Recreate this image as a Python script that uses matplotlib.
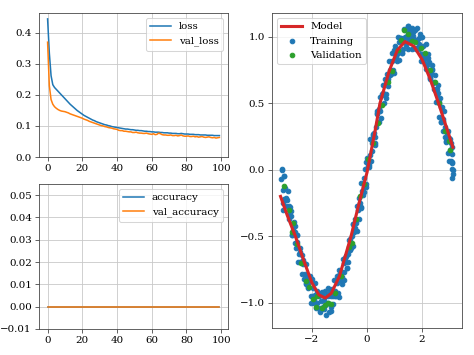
import matplotlib
matplotlib.use("Agg")
import matplotlib.pyplot as plt

plt.rcParams['font.family'] = ['DejaVu Serif']
plt.rcParams['font.size'] = 10

epochs = list(range(100))

loss = [0.445, 0.335, 0.262, 0.233, 0.224, 0.218, 0.212, 0.206, 0.200, 0.194,
        0.188, 0.182, 0.176, 0.170, 0.165, 0.160, 0.155, 0.150, 0.146, 0.142,
        0.138, 0.134, 0.131, 0.128, 0.125, 0.122, 0.119, 0.117, 0.114, 0.112,
        0.110, 0.108, 0.106, 0.104, 0.103, 0.101, 0.100, 0.098, 0.097, 0.096,
        0.095, 0.094, 0.093, 0.092, 0.091, 0.090, 0.090, 0.089, 0.088, 0.088,
        0.087, 0.086, 0.086, 0.085, 0.085, 0.084, 0.083, 0.083, 0.082, 0.082,
        0.081, 0.081, 0.080, 0.080, 0.080, 0.079, 0.079, 0.078, 0.078, 0.078,
        0.077, 0.077, 0.076, 0.076, 0.076, 0.075, 0.075, 0.076, 0.075, 0.074,
        0.074, 0.074, 0.073, 0.073, 0.073, 0.072, 0.072, 0.072, 0.071, 0.071,
        0.071, 0.071, 0.070, 0.070, 0.070, 0.070, 0.069, 0.069, 0.069, 0.069]

val_loss = [0.370, 0.230, 0.185, 0.170, 0.162, 0.157, 0.153, 0.150, 0.148, 0.147,
            0.146, 0.144, 0.142, 0.139, 0.137, 0.135, 0.133, 0.131, 0.129, 0.127,
            0.125, 0.122, 0.120, 0.118, 0.115, 0.113, 0.111, 0.109, 0.107, 0.105,
            0.103, 0.101, 0.100, 0.098, 0.097, 0.095, 0.094, 0.093, 0.091, 0.090,
            0.089, 0.086, 0.085, 0.085, 0.083, 0.083, 0.082, 0.081, 0.081, 0.079,
            0.079, 0.080, 0.078, 0.077, 0.077, 0.076, 0.076, 0.077, 0.075, 0.074,
            0.073, 0.075, 0.072, 0.073, 0.077, 0.075, 0.072, 0.071, 0.071, 0.070,
            0.070, 0.071, 0.069, 0.069, 0.070, 0.068, 0.069, 0.071, 0.068, 0.067,
            0.067, 0.068, 0.066, 0.066, 0.067, 0.065, 0.066, 0.064, 0.065, 0.066,
            0.064, 0.063, 0.064, 0.065, 0.063, 0.062, 0.063, 0.061, 0.062, 0.063]

accuracy = [0.0, 0.0, 0.0, 0.0, 0.0, 0.0, 0.0, 0.0, 0.0, 0.0,
            0.0, 0.0, 0.0, 0.0, 0.0, 0.0, 0.0, 0.0, 0.0, 0.0,
            0.0, 0.0, 0.0, 0.0, 0.0, 0.0, 0.0, 0.0, 0.0, 0.0,
            0.0, 0.0, 0.0, 0.0, 0.0, 0.0, 0.0, 0.0, 0.0, 0.0,
            0.0, 0.0, 0.0, 0.0, 0.0, 0.0, 0.0, 0.0, 0.0, 0.0,
            0.0, 0.0, 0.0, 0.0, 0.0, 0.0, 0.0, 0.0, 0.0, 0.0,
            0.0, 0.0, 0.0, 0.0, 0.0, 0.0, 0.0, 0.0, 0.0, 0.0,
            0.0, 0.0, 0.0, 0.0, 0.0, 0.0, 0.0, 0.0, 0.0, 0.0,
            0.0, 0.0, 0.0, 0.0, 0.0, 0.0, 0.0, 0.0, 0.0, 0.0,
            0.0, 0.0, 0.0, 0.0, 0.0, 0.0, 0.0, 0.0, 0.0, 0.0]
val_accuracy = list(accuracy)

train_x = [-3.10, -3.05, -3.00, -2.95, -2.90, -2.85, -2.80, -2.75, -2.70, -2.65,
           -2.60, -2.55, -2.50, -2.45, -2.40, -2.35, -2.30, -2.25, -2.20, -2.15,
           -2.10, -2.05, -2.00, -1.95, -1.90, -1.85, -1.80, -1.75, -1.70, -1.65,
           -1.60, -1.55, -1.50, -1.45, -1.40, -1.35, -1.30, -1.25, -1.20, -1.15,
           -1.10, -1.05, -1.00, -0.95, -0.90, -0.85, -0.80, -0.75, -0.70, -0.65,
           -0.60, -0.55, -0.50, -0.45, -0.40, -0.35, -0.30, -0.25, -0.20, -0.15,
           -0.10, -0.05, 0.00, 0.05, 0.10, 0.15, 0.20, 0.25, 0.30, 0.35,
           0.40, 0.45, 0.50, 0.55, 0.60, 0.65, 0.70, 0.75, 0.80, 0.85,
           0.90, 0.95, 1.00, 1.05, 1.10, 1.15, 1.20, 1.25, 1.30, 1.35,
           1.40, 1.45, 1.50, 1.55, 1.60, 1.65, 1.70, 1.75, 1.80, 1.85,
           1.90, 1.95, 2.00, 2.05, 2.10, 2.15, 2.20, 2.25, 2.30, 2.35,
           2.40, 2.45, 2.50, 2.55, 2.60, 2.65, 2.70, 2.75, 2.80, 2.85,
           2.90, 2.95, 3.00, 3.05, 3.10,
           -3.125, -3.025, -2.925, -2.825, -2.725, -2.625, -2.525, -2.425, -2.325, -2.225,
           -2.125, -2.025, -1.925, -1.825, -1.725, -1.625, -1.525, -1.425, -1.325, -1.225,
           -1.125, -1.025, -0.925, -0.825, -0.725, -0.625, -0.525, -0.425, -0.325, -0.225,
           -0.125, -0.025, 0.075, 0.175, 0.275, 0.375, 0.475, 0.575, 0.675, 0.775,
           0.875, 0.975, 1.075, 1.175, 1.275, 1.375, 1.475, 1.575, 1.675, 1.775,
           1.875, 1.975, 2.075, 2.175, 2.275, 2.375, 2.475, 2.575, 2.675, 2.775,
           2.875, 2.975, 3.075,
           -3.075, -3.025, -2.975, -2.925, -2.875, -2.825, -2.775, -2.725, -2.675, -2.625,
           -2.575, -2.525, -2.475, -2.425, -2.375, -2.325, -2.275, -2.225, -2.175, -2.125,
           -2.075, -2.025, -1.975, -1.925, -1.875, -1.825, -1.775, -1.725, -1.675, -1.625,
           -1.575, -1.525, -1.475, -1.425, -1.375, -1.325, -1.275, -1.225, -1.175, -1.125,
           -1.075, -1.025, -0.975, -0.925, -0.875, -0.825, -0.775, -0.725, -0.675, -0.625,
           -0.575, -0.525, -0.475, -0.425, -0.375, -0.325, -0.275, -0.225, -0.175, -0.125,
           -0.075, -0.025, 0.025, 0.075, 0.125, 0.175, 0.225, 0.275, 0.325, 0.375,
           0.425, 0.475, 0.525, 0.575, 0.625, 0.675, 0.725, 0.775, 0.825, 0.875,
           0.925, 0.975, 1.025, 1.075, 1.125, 1.175, 1.225, 1.275, 1.325, 1.375,
           1.425, 1.475, 1.525, 1.575, 1.625, 1.675, 1.725, 1.775, 1.825, 1.875,
           1.925, 1.975, 2.025, 2.075, 2.125, 2.175, 2.225, 2.275, 2.325, 2.375,
           2.425, 2.475, 2.525, 2.575, 2.625, 2.675, 2.725, 2.775, 2.825, 2.875,
           2.925, 2.975, 3.025, 3.075,
           3.10, 3.11, 3.09, 3.12, 3.08, 3.05, -3.06, -3.04]

train_y = [-0.00, -0.15, -0.05, -0.21, -0.23, -0.37, -0.28, -0.35, -0.48, -0.39,
           -0.55, -0.54, -0.69, -0.59, -0.69, -0.64, -0.82, -0.78, -0.71, -0.88,
           -0.82, -0.95, -0.82, -0.95, -0.94, -1.04, -0.91, -0.95, -1.04, -0.92,
           -1.03, -0.98, -1.09, -0.94, -1.00, -0.91, -1.03, -0.95, -0.83, -0.95,
           -0.85, -0.93, -0.75, -0.83, -0.77, -0.83, -0.66, -0.65, -0.69, -0.53,
           -0.60, -0.50, -0.57, -0.39, -0.40, -0.27, -0.37, -0.25, -0.10, -0.19,
           -0.06, -0.11, 0.09, 0.03, 0.11, 0.07, 0.26, 0.28, 0.25, 0.42,
           0.36, 0.46, 0.39, 0.57, 0.56, 0.68, 0.57, 0.68, 0.82, 0.71,
           0.82, 0.75, 0.93, 0.85, 0.90, 0.83, 0.99, 0.98, 0.91, 1.06,
           0.96, 1.01, 0.91, 1.05, 0.99, 1.07, 0.92, 0.98, 1.07, 0.92,
           0.99, 0.87, 1.00, 0.87, 0.87, 0.76, 0.87, 0.81, 0.70, 0.79,
           0.65, 0.66, 0.51, 0.61, 0.51, 0.54, 0.36, 0.38, 0.44, 0.25,
           0.28, 0.13, 0.23, 0.07, 0.05,
           -0.07, -0.05, -0.22, -0.27, -0.49, -0.47, -0.49, -0.69, -0.68, -0.85,
           -0.85, -0.82, -0.98, -0.94, -1.06, -0.94, -1.02, -0.89, -1.06, -0.93,
           -0.95, -0.79, -0.81, -0.70, -0.74, -0.57, -0.41, -0.44, -0.27, -0.28,
           -0.13, 0.06, 0.04, 0.20, 0.20, 0.43, 0.44, 0.64, 0.54, 0.71,
           0.72, 0.90, 0.87, 0.96, 0.88, 1.00, 1.08, 0.97, 1.04, 0.92,
           0.95, 1.00, 0.84, 0.85, 0.69, 0.75, 0.60, 0.64, 0.36, 0.37,
           0.21, 0.24, 0.06,
           0.01, -0.22, -0.14, -0.27, -0.16, -0.34, -0.31, -0.49, -0.45, -0.42,
           -0.59, -0.49, -0.63, -0.62, -0.78, -0.71, -0.70, -0.86, -0.81, -0.89,
           -0.80, -1.00, -0.89, -1.00, -0.85, -1.00, -0.93, -1.07, -0.99, -0.93,
           -1.05, -0.91, -1.01, -0.95, -1.07, -0.95, -0.90, -1.01, -0.91, -0.94,
           -0.80, -0.96, -0.80, -0.86, -0.67, -0.77, -0.65, -0.74, -0.63, -0.52,
           -0.59, -0.41, -0.47, -0.37, -0.46, -0.30, -0.21, -0.29, -0.16, -0.17,
           0.01, -0.13, 0.06, 0.02, 0.23, 0.14, 0.27, 0.19, 0.32, 0.44,
           0.36, 0.55, 0.49, 0.58, 0.50, 0.65, 0.72, 0.63, 0.75, 0.73,
           0.88, 0.73, 0.89, 0.82, 1.00, 0.89, 0.99, 0.88, 0.97, 1.05,
           0.94, 1.08, 0.99, 1.04, 0.91, 1.01, 1.05, 0.91, 0.98, 0.91,
           1.02, 0.82, 0.93, 0.82, 0.95, 0.79, 0.84, 0.68, 0.73, 0.76,
           0.61, 0.71, 0.57, 0.58, 0.40, 0.47, 0.47, 0.29, 0.32, 0.22,
           0.29, 0.07, 0.15, 0.01,
           -0.06, 0.00, 0.12, -0.03, 0.17, 0.20, -0.30, -0.25]

val_x = [-3.02, -2.85, -2.74, -2.68, -2.55, -2.40, -2.23, -2.10, -1.95, -1.87,
         -1.80, -1.65, -1.52, -1.40, -1.30, -1.15, -0.95, -0.67, -0.56, -0.40,
         -0.24, -0.12, 0.05, 0.22, 0.41, 0.53, 0.75, 0.90, 1.14, 1.25,
         1.36, 1.50, 1.62, 1.75, 1.95, 2.11, 2.30, 2.47, 2.62, 2.84,
         3.02, 2.98]
val_y = [-0.12, -0.30, -0.47, -0.40, -0.56, -0.70, -0.84, -0.88, -0.97, -1.03,
         -0.95, -1.04, -1.02, -1.00, -1.01, -0.93, -0.80, -0.58, -0.55, -0.37,
         -0.20, -0.11, 0.08, 0.20, 0.35, 0.49, 0.66, 0.74, 0.90, 0.98,
         1.05, 1.02, 0.97, 0.96, 0.92, 0.88, 0.75, 0.66, 0.50, 0.29,
         0.15, 0.22]

model_x = [-3.14, -2.9, -2.6, -2.3, -2.0, -1.75, -1.52, -1.3, -1.0, -0.58,
           -0.3, 0.0, 0.3, 0.47, 0.8, 1.1, 1.38, 1.7, 2.0, 2.3,
           2.6, 2.9, 3.12]
model_y = [-0.20, -0.34, -0.50, -0.68, -0.85, -0.94, -0.965, -0.93, -0.80, -0.50,
           -0.26, -0.02, 0.30, 0.50, 0.74, 0.90, 0.965, 0.93, 0.83, 0.68,
           0.50, 0.31, 0.17]

spine_col = '#444444'

def style(ax):
    ax.grid(True, color='#c8c8c8', linewidth=0.8)
    ax.set_axisbelow(True)
    for s in ax.spines.values():
        s.set_color(spine_col)
    ax.tick_params(colors=spine_col, labelcolor='black')

W, H = 474, 355
fig = plt.figure(figsize=(W / 74, H / 74), dpi=74)

ax1 = fig.add_axes([39 / W, 1 - 157 / H, (228 - 39) / W, (157 - 13) / H])
ax1.plot(epochs, loss, color='tab:blue', lw=1.5, label='loss')
ax1.plot(epochs, val_loss, color='tab:orange', lw=1.5, label='val_loss')
ax1.set_ylim(0, 0.464)
ax1.set_yticks([0.0, 0.1, 0.2, 0.3, 0.4])
ax1.set_xticks([0, 20, 40, 60, 80, 100])
ax1.legend(loc='upper right')
style(ax1)

ax2 = fig.add_axes([39 / W, 1 - 329 / H, (228 - 39) / W, (329 - 184) / H])
ax2.plot(epochs, accuracy, color='tab:blue', lw=1.5, label='accuracy')
ax2.plot(epochs, val_accuracy, color='tab:orange', lw=1.5, label='val_accuracy')
ax2.set_ylim(-0.01, 0.055)
ax2.set_yticks([-0.01, 0.0, 0.01, 0.02, 0.03, 0.04, 0.05])
ax2.set_xticks([0, 20, 40, 60, 80, 100])
ax2.legend(loc='upper right')
style(ax2)

ax3 = fig.add_axes([272 / W, 1 - 328 / H, (462 - 272) / W, (328 - 13) / H])
sc1 = ax3.scatter(train_x, train_y, s=20, color='tab:blue', label='Training', zorder=2)
sc2 = ax3.scatter(val_x, val_y, s=20, color='tab:green', label='Validation', zorder=3)
ln, = ax3.plot(model_x, model_y, color='tab:red', lw=3, label='Model', zorder=4)
ax3.set_xlim(-3.45, 3.45)
ax3.set_ylim(-1.19, 1.18)
ax3.set_xticks([-2, 0, 2])
ax3.set_yticks([-1.0, -0.5, 0.0, 0.5, 1.0])
ax3.legend(handles=[ln, sc1, sc2], loc='upper left')
style(ax3)

fig.savefig('out.png', dpi=74)
